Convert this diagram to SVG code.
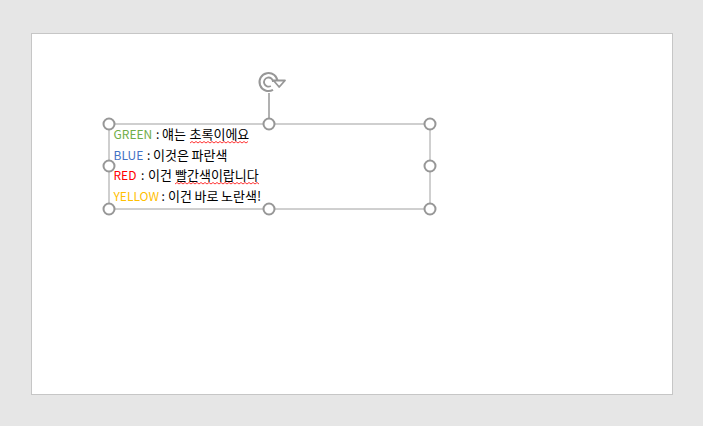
<svg xmlns="http://www.w3.org/2000/svg" width="703" height="426" viewBox="0 0 703 426">
<style>
.t{font-family:"Noto Sans CJK KR","Noto Sans",sans-serif;font-size:12px;fill:#000}
.k{font-size:13px}
.h{fill:#fff;stroke:#979797;stroke-width:2}
.sq{fill:none;stroke:#ff0000;stroke-width:0.8}
</style>
<rect x="0" y="0" width="703" height="426" fill="#e6e6e6"/>
<rect id="page" x="31.5" y="33.5" width="641" height="361" fill="#fff" stroke="#c6c6c6" stroke-width="1"/>
<g id="textbox">
<rect x="109" y="124" width="321" height="85" fill="none" stroke="#a0a0a0" stroke-width="1"/>
<text class="t" x="113.5" y="139" style="fill:#70ad47">GREEN</text>
<text class="t" x="156" y="139">:</text>
<text class="t k" x="162" y="139">얘는</text>
<text class="t k" x="189.5" y="139">초록이에요</text>
<text class="t" x="113.5" y="159.5" style="fill:#4472c4">BLUE</text>
<text class="t" x="147" y="159.5">:</text>
<text class="t k" x="153" y="159.5">이것은</text>
<text class="t k" x="191.5" y="159.5">파란색</text>
<text class="t" x="113.5" y="180" style="fill:#ff0000">RED</text>
<text class="t" x="141" y="180">:</text>
<text class="t k" x="148" y="180">이건</text>
<text class="t k" x="175" y="180">빨간색이랍니다</text>
<text class="t" x="113.5" y="200.5" style="fill:#ffc000">YELLOW</text>
<text class="t" x="161.5" y="200.5">:</text>
<text class="t k" x="168" y="200.5">이건</text>
<text class="t k" x="194.5" y="200.5">바로</text>
<text class="t k" x="221" y="200.5">노란색!</text>
<path class="sq" d="M190 143 l2 -1.5 l2 1.5 l2 -1.5 l2 1.5 l2 -1.5 l2 1.5 l2 -1.5 l2 1.5 l2 -1.5 l2 1.5 l2 -1.5 l2 1.5 l2 -1.5 l2 1.5 l2 -1.5 l2 1.5 l2 -1.5 l2 1.5 l2 -1.5 l2 1.5 l2 -1.5 l2 1.5 l2 -1.5 l2 1.5 l2 -1.5 l2 1.5 l2 -1.5 l2 1.5 l2 -1.5"/>
<path class="sq" d="M175 184 l2 -1.5 l2 1.5 l2 -1.5 l2 1.5 l2 -1.5 l2 1.5 l2 -1.5 l2 1.5 l2 -1.5 l2 1.5 l2 -1.5 l2 1.5 l2 -1.5 l2 1.5 l2 -1.5 l2 1.5 l2 -1.5 l2 1.5 l2 -1.5 l2 1.5 l2 -1.5 l2 1.5 l2 -1.5 l2 1.5 l2 -1.5 l2 1.5 l2 -1.5 l2 1.5 l2 -1.5 l2 1.5 l2 -1.5 l2 1.5 l2 -1.5 l2 1.5 l2 -1.5 l2 1.5 l2 -1.5 l2 1.5 l2 -1.5 l2 1.5 l2 -1.5 l2 1.5"/>
</g>
<g id="handles">
<line x1="269" y1="93" x2="269" y2="119" stroke="#979797" stroke-width="1.5"/>
<path d="M277.5 82 A9 9 0 1 0 273 89.8" fill="none" stroke="#979797" stroke-width="2"/>
<path d="M273 82 A4.5 4.5 0 1 0 270.8 85.9" fill="none" stroke="#979797" stroke-width="1.8"/>
<path d="M273.5 80.5 L285 80.5 L279.2 87 Z" fill="#fff" stroke="#979797" stroke-width="1.8" stroke-linejoin="round"/>
<circle class="h" cx="109" cy="124" r="5.5"/>
<circle class="h" cx="269" cy="124" r="5.5"/>
<circle class="h" cx="430" cy="124" r="5.5"/>
<circle class="h" cx="109" cy="166" r="5.5"/>
<circle class="h" cx="430" cy="166" r="5.5"/>
<circle class="h" cx="109" cy="209" r="5.5"/>
<circle class="h" cx="269" cy="209" r="5.5"/>
<circle class="h" cx="430" cy="209" r="5.5"/>
</g>
</svg>
